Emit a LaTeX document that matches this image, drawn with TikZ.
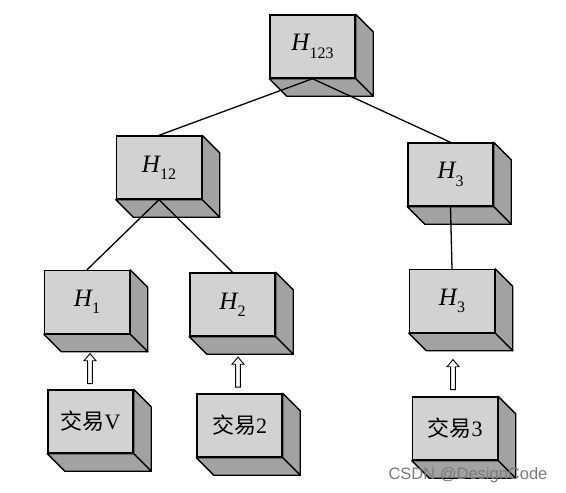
\documentclass[tikz,border=0pt]{standalone}
\usepackage{fontspec}
\setmainfont{Liberation Serif}
\newfontfamily\cjk{Noto Sans CJK SC}
\newfontfamily\wmfont{Liberation Sans}
\usetikzlibrary{calc,shapes.arrows}
\definecolor{frontgray}{HTML}{D2D2D2}
\definecolor{sidegray}{HTML}{A2A2A2}
\definecolor{wmgray}{HTML}{7A7A7A}
\newcommand{\hlab}[1]{{\fontsize{25}{25}\selectfont\itshape H}\raisebox{-0.32em}{\fontsize{16}{16}\selectfont #1}}
\tikzset{
  cube/.style={draw=black, line width=1.4pt, fill=frontgray, minimum width=85pt, minimum height=63pt, inner sep=0pt, font=\fontsize{23}{23}\selectfont},
  side/.style={draw=black, line width=1.4pt, fill=sidegray, line join=round},
  link/.style={draw=black, line width=1.3pt},
  uparrow/.style={single arrow, draw=black, line width=0.9pt, fill=white, shape border rotate=90, minimum height=30pt, minimum width=12pt, single arrow head extend=3pt, single arrow tip angle=80, inner sep=1.5pt},
  tx/.style={cube, font=\fontsize{22}{22}\selectfont},
  wmark/.style={anchor=east, text=wmgray, font=\wmfont\fontsize{16.5}{16.5}\selectfont}
}
\begin{document}
\begin{tikzpicture}[x=1pt,y=-1pt]
\useasboundingbox[fill=white] (0,0) rectangle (566,493);
\node[cube] (h123) at (312.5,46.5) {\hlab{123}};
\node[cube] (h12) at (159,167.5) {\hlab{12}};
\node[cube] (h3a) at (450.5,174.5) {\hlab{3}};
\node[cube] (h1) at (87,302) {\hlab{1}};
\node[cube] (h2) at (232.5,304.5) {\hlab{2}};
\node[cube] (h3b) at (452,301) {\hlab{3}};
\node[tx] (t1) at (90.5,421.5) {{\cjk 交易}V};
\node[tx] (t2) at (239.5,425.5) {{\cjk 交易}2};
\node[tx] (t3) at (455,428.5) {{\cjk 交易}3};
\foreach \n in {h123,h12,h3a,h1,h2,h3b,t1,t2,t3}{
  \path[side] (\n.north east) -- ($(\n.north east)+(17.5,17.5)$) -- ($(\n.south east)+(17.5,17.5)$) -- (\n.south east) -- cycle;
  \path[side] (\n.south west) -- (\n.south east) -- ($(\n.south east)+(17.5,17.5)$) -- ($(\n.south west)+(17.5,17.5)$) -- cycle;
}
\draw[link] (h123.south) -- (h12.north);
\draw[link] (h123.south) -- (h3a.north);
\draw[link] (h12.south) -- (h1.north);
\draw[link] (h12.south) -- (h2.north);
\draw[link] (h3a.south) -- (h3b.north);
\node[uparrow] (a1) at (90,370) {};
\node[uparrow] (a2) at (238,373.5) {};
\node[uparrow] (a3) at (453,376) {};
\node[wmark] (wm) at (551,475) {CSDN @DesignCode};
\end{tikzpicture}
\end{document}
